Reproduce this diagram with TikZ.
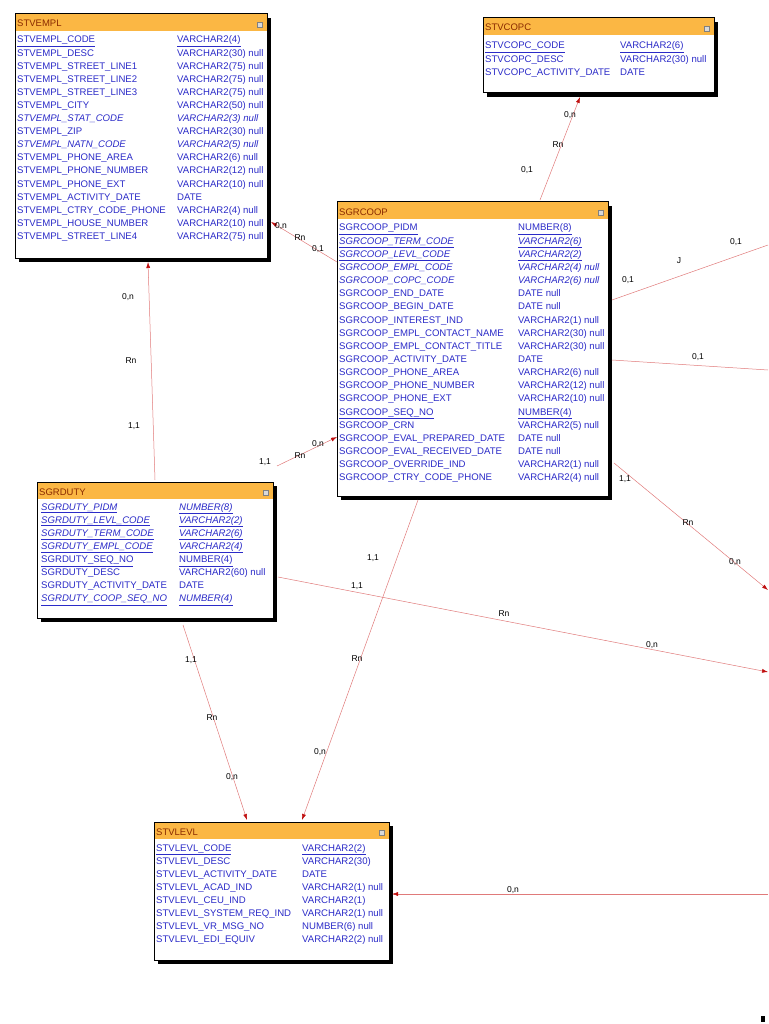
\documentclass[tikz,border=0pt]{standalone}
\usepackage{fontspec}
\setmainfont{Liberation Sans}
\usetikzlibrary{arrows.meta,fit}
\definecolor{hdr}{HTML}{FBB744}
\definecolor{hdrtxt}{HTML}{8A2A00}
\definecolor{fld}{HTML}{2B2BC8}
\definecolor{rel}{HTML}{E07A7A}
\definecolor{arr}{HTML}{C01010}
\newcommand\U[1]{\underline{#1}}
\newcommand\I[1]{\textit{#1}}
\newcommand\IU[1]{\underline{\textit{#1}}}
\newcommand\tbl[6]{%
  \fill[black] (#2+4,#3+4) rectangle (#4+4,#5+4);
  \path (#2,#3) coordinate (#1nw) (#4,#5) coordinate (#1se);
  \node[fit=(#1nw)(#1se),inner sep=0pt,draw=black,line width=1pt,fill=white] (#1) {};
  \fill[hdr] (#2+0.5,#3+0.5) rectangle (#4-0.5,#3+17);
  \node[anchor=base west,text=hdrtxt,font=\fontsize{9.5}{10}\selectfont,inner sep=0pt] (#1title) at (#2+2,#3+13) {#6};
  \node[draw=gray,fill=gray!30,minimum size=5pt,inner sep=0pt] (#1icon) at (#4-7,#3+11) {};
}
\newcommand\row[6]{%
  \node[rowtxt] (#1a) at ({#2},{#4}) {#5};
  \node[rowtxt] (#1b) at ({#3},{#4}) {#6};
}
\tikzset{
  rowtxt/.style={anchor=base west,text=fld,inner sep=0pt,font=\fontsize{9.6}{10}\selectfont},
  relline/.style={draw=rel,line width=0.5pt},
  relarr/.style={relline,-{Latex[length=6pt,width=4pt,color=arr]}},
  lbl/.style={font=\fontsize{8.5}{9}\selectfont,inner sep=1pt,text=black},
}
\begin{document}
\begin{tikzpicture}[x=1pt,y=-1pt]
\useasboundingbox (0,0) rectangle (768,1024);
% STVEMPL
\tbl{em}{15}{14}{267}{258}{STVEMPL}
\foreach[count=\i] \a/\b in {{\U{STVEMPL\_CODE}}/{\U{VARCHAR2(4)}},{STVEMPL\_DESC}/{VARCHAR2(30) null},{STVEMPL\_STREET\_LINE1}/{VARCHAR2(75) null},{STVEMPL\_STREET\_LINE2}/{VARCHAR2(75) null},{STVEMPL\_STREET\_LINE3}/{VARCHAR2(75) null},{STVEMPL\_CITY}/{VARCHAR2(50) null},{\I{STVEMPL\_STAT\_CODE}}/{\I{VARCHAR2(3) null}},{STVEMPL\_ZIP}/{VARCHAR2(30) null},{\I{STVEMPL\_NATN\_CODE}}/{\I{VARCHAR2(5) null}},{STVEMPL\_PHONE\_AREA}/{VARCHAR2(6) null},{STVEMPL\_PHONE\_NUMBER}/{VARCHAR2(12) null},{STVEMPL\_PHONE\_EXT}/{VARCHAR2(10) null},{STVEMPL\_ACTIVITY\_DATE}/{DATE},{STVEMPL\_CTRY\_CODE\_PHONE}/{VARCHAR2(4) null},{STVEMPL\_HOUSE\_NUMBER}/{VARCHAR2(10) null},{STVEMPL\_STREET\_LINE4}/{VARCHAR2(75) null}}
  {\row{em\i}{17}{177}{43+13.1*(\i-1)}{\a}{\b}}
% STVCOPC
\tbl{co}{483}{18}{714}{93}{STVCOPC}
\foreach[count=\i] \a/\b in {{\U{STVCOPC\_CODE}}/{\U{VARCHAR2(6)}},{STVCOPC\_DESC}/{VARCHAR2(30) null},{STVCOPC\_ACTIVITY\_DATE}/{DATE}}
  {\row{co\i}{485}{620}{49+13.1*(\i-1)}{\a}{\b}}
% SGRCOOP
\tbl{sc}{337}{202}{608}{496}{SGRCOOP}
\foreach[count=\i] \a/\b in {{\U{SGRCOOP\_PIDM}}/{\U{NUMBER(8)}},{\IU{SGRCOOP\_TERM\_CODE}}/{\IU{VARCHAR2(6)}},{\IU{SGRCOOP\_LEVL\_CODE}}/{\IU{VARCHAR2(2)}},{\I{SGRCOOP\_EMPL\_CODE}}/{\I{VARCHAR2(4) null}},{\I{SGRCOOP\_COPC\_CODE}}/{\I{VARCHAR2(6) null}},{SGRCOOP\_END\_DATE}/{DATE null},{SGRCOOP\_BEGIN\_DATE}/{DATE null},{SGRCOOP\_INTEREST\_IND}/{VARCHAR2(1) null},{SGRCOOP\_EMPL\_CONTACT\_NAME}/{VARCHAR2(30) null},{SGRCOOP\_EMPL\_CONTACT\_TITLE}/{VARCHAR2(30) null},{SGRCOOP\_ACTIVITY\_DATE}/{DATE},{SGRCOOP\_PHONE\_AREA}/{VARCHAR2(6) null},{SGRCOOP\_PHONE\_NUMBER}/{VARCHAR2(12) null},{SGRCOOP\_PHONE\_EXT}/{VARCHAR2(10) null},{\U{SGRCOOP\_SEQ\_NO}}/{\U{NUMBER(4)}},{SGRCOOP\_CRN}/{VARCHAR2(5) null},{SGRCOOP\_EVAL\_PREPARED\_DATE}/{DATE null},{SGRCOOP\_EVAL\_RECEIVED\_DATE}/{DATE null},{SGRCOOP\_OVERRIDE\_IND}/{VARCHAR2(1) null},{SGRCOOP\_CTRY\_CODE\_PHONE}/{VARCHAR2(4) null}}
  {\row{sc\i}{339}{518}{231+13.15*(\i-1)}{\a}{\b}}
% SGRDUTY
\tbl{du}{37}{482}{273}{618}{SGRDUTY}
\foreach[count=\i] \a/\b in {{\IU{SGRDUTY\_PIDM}}/{\IU{NUMBER(8)}},{\IU{SGRDUTY\_LEVL\_CODE}}/{\IU{VARCHAR2(2)}},{\IU{SGRDUTY\_TERM\_CODE}}/{\IU{VARCHAR2(6)}},{\IU{SGRDUTY\_EMPL\_CODE}}/{\IU{VARCHAR2(4)}},{\U{SGRDUTY\_SEQ\_NO}}/{\U{NUMBER(4)}},{SGRDUTY\_DESC}/{VARCHAR2(60) null},{SGRDUTY\_ACTIVITY\_DATE}/{DATE},{\IU{SGRDUTY\_COOP\_SEQ\_NO}}/{\IU{NUMBER(4)}}}
  {\row{du\i}{41}{179}{510+13.1*(\i-1)}{\a}{\b}}
% STVLEVL
\tbl{lv}{154}{822}{389}{960}{STVLEVL}
\foreach[count=\i] \a/\b in {{\U{STVLEVL\_CODE}}/{\U{VARCHAR2(2)}},{STVLEVL\_DESC}/{VARCHAR2(30)},{STVLEVL\_ACTIVITY\_DATE}/{DATE},{STVLEVL\_ACAD\_IND}/{VARCHAR2(1) null},{STVLEVL\_CEU\_IND}/{VARCHAR2(1)},{STVLEVL\_SYSTEM\_REQ\_IND}/{VARCHAR2(1) null},{STVLEVL\_VR\_MSG\_NO}/{NUMBER(6) null},{STVLEVL\_EDI\_EQUIV}/{VARCHAR2(2) null}}
  {\row{lv\i}{156}{302}{851+13.1*(\i-1)}{\a}{\b}}
% connector end points
\coordinate (e1a) at (155,480); \coordinate (e1b) at (148,262);
\coordinate (e2a) at (337,262); \coordinate (e2b) at (271,222);
\coordinate (e3a) at (540,200); \coordinate (e3b) at (580,97);
\coordinate (e4a) at (277,466); \coordinate (e4b) at (337,437);
\coordinate (e5a) at (612,300); \coordinate (e5b) at (768,245);
\coordinate (e6a) at (612,360); \coordinate (e6b) at (768,370);
\coordinate (e7a) at (614,463); \coordinate (e7b) at (768,590);
\coordinate (e8a) at (278,577); \coordinate (e8b) at (768,672);
\coordinate (e9a) at (418,500); \coordinate (e9b) at (302,820);
\coordinate (e10a) at (183,625); \coordinate (e10b) at (247,820);
\coordinate (e11a) at (768,894); \coordinate (e11b) at (392,894);
\draw[relarr] (e1a) -- (e1b);
\draw[relarr] (e2a) -- (e2b);
\draw[relarr] (e3a) -- (e3b);
\draw[relarr] (e4a) -- (e4b);
\draw[relline] (e5a) -- (e5b);
\draw[relline] (e6a) -- (e6b);
\draw[relarr] (e7a) -- (e7b);
\draw[relarr] (e8a) -- (e8b);
\draw[relarr] (e9a) -- (e9b);
\draw[relarr] (e10a) -- (e10b);
\draw[relarr] (e11a) -- (e11b);
% labels
\node[lbl] (l1) at (128,297) {0,n}; \node[lbl] (l2) at (131,361) {Rn}; \node[lbl] (l3) at (134,426) {1,1};
\node[lbl] (l4) at (281,226) {0,n}; \node[lbl] (l5) at (300,238) {Rn}; \node[lbl] (l6) at (318,249) {0,1};
\node[lbl] (l7) at (570,115) {0,n}; \node[lbl] (l8) at (558,145) {Rn}; \node[lbl] (l9) at (527,170) {0,1};
\node[lbl] (l10) at (265,462) {1,1}; \node[lbl] (l11) at (300,456) {Rn}; \node[lbl] (l12) at (318,444) {0,n};
\node[lbl] (l13) at (628,280) {0,1}; \node[lbl] (l14) at (679,261) {J}; \node[lbl] (l15) at (736,242) {0,1};
\node[lbl] (l16) at (698,357) {0,1};
\node[lbl] (l17) at (625,479) {1,1}; \node[lbl] (l18) at (688,523) {Rn}; \node[lbl] (l19) at (735,562) {0,n};
\node[lbl] (l20) at (357,586) {1,1}; \node[lbl] (l21) at (504,614) {Rn}; \node[lbl] (l22) at (652,645) {0,n};
\node[lbl] (l23) at (373,558) {1,1}; \node[lbl] (l24) at (357,659) {Rn}; \node[lbl] (l25) at (320,752) {0,n};
\node[lbl] (l26) at (191,660) {1,1}; \node[lbl] (l27) at (212,718) {Rn}; \node[lbl] (l28) at (232,777) {0,n};
\node[lbl] (l29) at (513,890) {0,n};
\fill[black] (761,1016) rectangle (765,1022);
\end{tikzpicture}
\end{document}
